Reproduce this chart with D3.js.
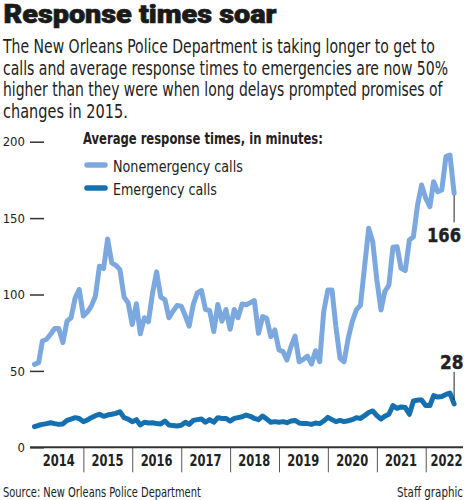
<!DOCTYPE html>
<html>
<head>
<meta charset="utf-8">
<script src="https://cdn.jsdelivr.net/npm/d3@7"></script>
<style>
  body { margin: 0; background: #fff; }
  svg { display: block; }
  .cond { font-family: 'Liberation Sans Narrow', 'DejaVu Sans Condensed', Roboto, sans-serif; font-stretch: condensed; fill: #222; }
</style>
</head>
<body>
<div id="chart"></div>
<script>
// chart data (monthly, Jan 2014 - Aug 2022)
var startMonth = new Date(2014, 0, 1);
var nonemergency = [54.3, 55.4, 69.6, 70.7, 74.0, 77.8, 77.8, 68.5, 82.6, 84.8,
  97.8, 103.3, 85.9, 88.7, 92.4, 98.9, 118.5, 117.0, 136.3, 120.7,
  119.1, 116.3, 98.3, 94.6, 80.4, 93.9, 74.3, 84.8, 82.2, 101.1,
  114.8, 98.3, 96.7, 84.8, 89.1, 92.8, 92.4, 85.9, 79.3, 93.5,
  101.1, 102.6, 90.2, 89.6, 75.7, 93.5, 82.6, 90.2, 77.2, 90.2,
  84.8, 93.8, 93.3, 94.7, 96.0, 74.6, 85.5, 84.4, 72.4, 76.8,
  63.7, 62.6, 57.1, 66.0, 72.8, 56.0, 57.5, 59.7, 54.5, 63.2,
  56.0, 88.8, 102.9, 102.9, 78.9, 58.2, 56.0, 71.3, 82.2, 89.9,
  93.1, 118.2, 143.3, 134.6, 109.5, 89.9, 101.8, 106.2, 130.9, 131.3,
  117.1, 115.6, 135.7, 137.8, 158.6, 171.7, 163.0, 157.5, 173.8, 167.3,
  168.4, 190.2, 191.3, 166.2];
var emergency = [13.5, 14.4, 15.0, 15.5, 16.1, 15.5, 15.0, 15.3, 17.6, 18.5,
  19.4, 18.9, 16.8, 17.9, 19.4, 20.7, 21.6, 20.3, 21.1, 21.6,
  22.2, 23.3, 19.4, 18.5, 16.8, 18.1, 14.6, 16.4, 15.9, 16.1,
  15.5, 15.3, 17.2, 14.6, 14.2, 13.9, 14.4, 16.4, 15.0, 17.6,
  18.1, 18.5, 16.4, 18.1, 16.4, 19.4, 18.9, 18.9, 17.2, 18.9,
  19.4, 20.0, 21.1, 20.3, 18.9, 18.1, 20.5, 18.5, 16.4, 16.8,
  16.4, 16.8, 16.1, 17.2, 17.6, 15.9, 15.5, 15.5, 15.0, 15.9,
  15.5, 17.2, 19.6, 18.1, 16.8, 17.6, 16.8, 17.4, 18.1, 19.4,
  18.9, 20.7, 22.8, 23.8, 20.7, 18.5, 20.3, 21.6, 27.3, 25.5,
  26.4, 26.0, 21.6, 30.3, 30.9, 30.9, 27.3, 27.3, 33.8, 32.9,
  33.3, 34.6, 35.5, 28.4];
var years = [2014, 2015, 2016, 2017, 2018, 2019, 2020, 2021, 2022];
var yTicks = [0, 50, 100, 150, 200];
var seriesNames = ["Nonemergency calls", "Emergency calls"];

var title = "Response times soar";
var subtitle = [
  "The New Orleans Police Department is taking longer to get to",
  "calls and average response times to emergencies are now 50%",
  "higher than they were when long delays prompted promises of",
  "changes in 2015."
];
var legendTitle = "Average response times, in minutes:";
var source = "Source: New Orleans Police Department";
var credit = "Staff graphic";

//Create SVG
var svgWidth = 469;
var svgHeight = 500;
var lightBlue = "#7ba8de";
var darkBlue = "#1570b0";

var svg = d3.select("#chart")
  .append("svg")
  .attr("width", svgWidth)
  .attr("height", svgHeight);

// place a text at (x, y) and squeeze it horizontally to the width it has in the print graphic
function place(sel, px, py, w) {
  sel.each(function(d, i) {
    var el = d3.select(this);
    var x0 = typeof px === "function" ? px(d, i) : px;
    var y0 = typeof py === "function" ? py(d, i) : py;
    var w0 = typeof w === "function" ? w(d, i) : w;
    var s = w0 / this.getComputedTextLength();
    el.attr("x", 0).attr("y", 0)
      .attr("transform", `translate(${x0}, ${y0}) scale(${s}, 1)`);
  });
}

//Header
svg.append("text")
  .style("font-family", "Roboto, Lato, 'Liberation Sans', sans-serif")
  .style("font-weight", 900)
  .style("font-size", "25px")
  .style("fill", "#1a1a1a")
  .style("stroke", "#1a1a1a")
  .style("stroke-width", 0.7)
  .text(title)
  .call(place, 3.5, 23, 273);

var subWidths = [432, 445, 440, 125];
svg.selectAll(".sub")
  .data(subtitle)
  .enter()
  .append("text")
  .attr("class", "sub cond")
  .style("font-size", "19px")
  .text(d => d)
  .call(place, 3, (d, i) => 53 + i * 21.7, (d, i) => subWidths[i]);

//Scales
var x = d3.scaleTime()
  .domain([new Date(2014, 0, 1), new Date(2023, 0, 1)])
  .range([34.5, 34.5 + 9 * 48.9]);

var y = d3.scaleLinear()
  .domain([0, 200])
  .range([447.3, 141.7]);

var axisEnd = 463;

//Y axis
var leftAxis = d3.axisLeft(y)
  .tickValues(yTicks)
  .tickSize(14)
  .tickPadding(5);

var yAxis = svg.append("g")
  .attr("transform", "translate(44, 0)")
  .call(leftAxis);
yAxis.select(".domain").remove();
yAxis.selectAll("line").attr("stroke", "#333").attr("stroke-width", 1.5);
yAxis.selectAll("text")
  .attr("class", "cond")
  .style("font-size", "13px")
  .style("fill", "#222");

//X axis: year separators
var sepAxis = d3.axisBottom(x)
  .tickValues(years.slice(1).map(yr => new Date(yr, 0, 1)))
  .tickSize(25)
  .tickFormat("");

var xAxis = svg.append("g")
  .attr("transform", `translate(0, ${y(0)})`)
  .call(sepAxis);
xAxis.select(".domain").remove();
xAxis.selectAll("line").attr("stroke", "#555").attr("stroke-width", 1);

svg.append("line")
  .attr("x1", 30)
  .attr("x2", axisEnd)
  .attr("y1", y(0))
  .attr("y2", y(0))
  .attr("stroke", "#333")
  .attr("stroke-width", 2);

svg.selectAll(".year")
  .data(years)
  .enter()
  .append("text")
  .attr("class", "year cond")
  .attr("text-anchor", "middle")
  .style("font-size", "16px")
  .style("font-weight", "bold")
  .text(d => d)
  .call(place, d => Math.min(x(new Date(d, 6, 1)), axisEnd - 16.5), y(0) + 19, 32);

//Lines
var dates = nonemergency.map((d, i) => d3.timeMonth.offset(startMonth, i));

var line = d3.line()
  .x((d, i) => x(dates[i]))
  .y(d => y(d));

svg.append("path")
  .datum(nonemergency)
  .attr("fill", "none")
  .attr("stroke", lightBlue)
  .attr("stroke-width", 5)
  .attr("stroke-linejoin", "round")
  .attr("stroke-linecap", "round")
  .attr("d", line);

svg.append("path")
  .datum(emergency)
  .attr("fill", "none")
  .attr("stroke", darkBlue)
  .attr("stroke-width", 5)
  .attr("stroke-linejoin", "round")
  .attr("stroke-linecap", "round")
  .attr("d", line);

//Legend
svg.append("text")
  .attr("class", "cond")
  .style("font-size", "16.5px")
  .style("font-weight", "bold")
  .text(legendTitle)
  .call(place, 83, 144, 240);

var legend = svg.selectAll(".legend")
  .data(seriesNames)
  .enter()
  .append("g")
  .attr("class", "legend")
  .attr("transform", (d, i) => `translate(0, ${165 + i * 23})`);

legend.append("line")
  .attr("x1", 87)
  .attr("x2", 105)
  .attr("stroke", (d, i) => i === 0 ? lightBlue : darkBlue)
  .attr("stroke-width", 5.5)
  .attr("stroke-linecap", "round");

legend.append("text")
  .attr("class", "cond")
  .style("font-size", "16.5px")
  .text(d => d)
  .each(function(d) {
    d3.select(this).call(place, 113, 6.5, d === seriesNames[0] ? 130 : 104);
  });

//End labels
var last = nonemergency.length - 1;
var endX = x(dates[last]);

svg.append("line")
  .attr("x1", endX).attr("x2", endX)
  .attr("y1", y(nonemergency[last]) + 2)
  .attr("y2", y(nonemergency[last]) + 29)
  .attr("stroke", "#222")
  .attr("stroke-width", 1);

svg.append("text")
  .attr("class", "cond")
  .attr("text-anchor", "end")
  .style("font-size", "19.5px")
  .style("font-weight", "bold")
  .style("stroke", "#222")
  .style("stroke-width", 0.4)
  .text(Math.floor(nonemergency[last]))
  .call(place, 461, y(nonemergency[last]) + 48.5, 34);

svg.append("line")
  .attr("x1", endX).attr("x2", endX)
  .attr("y1", y(emergency[last]) - 32)
  .attr("y2", y(emergency[last]) - 4)
  .attr("stroke", "#222")
  .attr("stroke-width", 1);

svg.append("text")
  .attr("class", "cond")
  .attr("text-anchor", "end")
  .style("font-size", "19.5px")
  .style("font-weight", "bold")
  .style("stroke", "#222")
  .style("stroke-width", 0.4)
  .text(Math.floor(emergency[last]))
  .call(place, 463.5, y(emergency[last]) - 34.5, 23.5);

//Footer
svg.append("text")
  .attr("class", "cond")
  .style("font-size", "13.5px")
  .text(source)
  .call(place, 3, 497, 198);

svg.append("text")
  .attr("class", "cond")
  .attr("text-anchor", "end")
  .style("font-size", "13.5px")
  .text(credit)
  .call(place, 463, 497, 66);
</script>
</body>
</html>
